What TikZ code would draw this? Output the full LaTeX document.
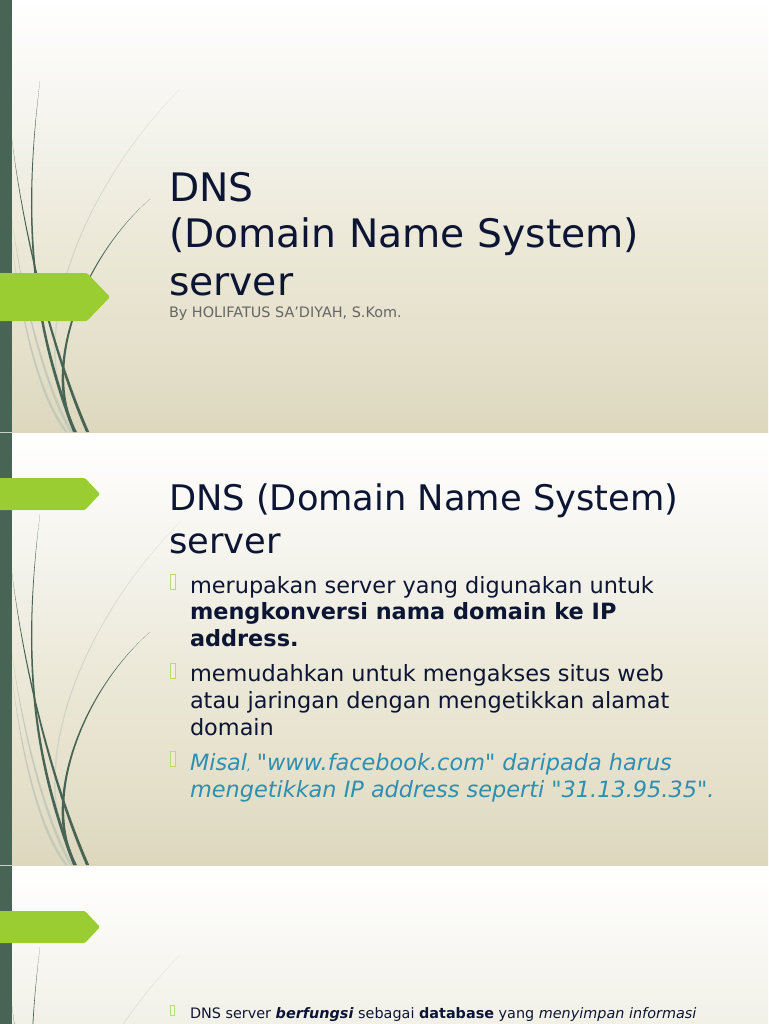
\documentclass[tikz,border=0pt]{standalone}
\usepackage{fontspec}
\setmainfont{DejaVu Sans}
\newfontfamily\plainfam{DejaVu Sans}
\usetikzlibrary{calc}
\definecolor{ink}{HTML}{0C1533}
\definecolor{barc}{HTML}{486454}
\definecolor{lime}{HTML}{9ACD32}
\definecolor{teal1}{HTML}{2E8FB0}
\definecolor{sub}{HTML}{666666}
\definecolor{bg1}{HTML}{F4F3EC}
\definecolor{bg2}{HTML}{E8E4CF}
\definecolor{bg3}{HTML}{DDD7BE}
\definecolor{leafl}{HTML}{C4CABA}
\pgfdeclareverticalshading{slideshade}{100bp}{color(0bp)=(bg3); color(25bp)=(bg3); color(33bp)=(bg2!60!bg3); color(48bp)=(bg2!65!bg1); color(60bp)=(bg1); color(75bp)=(white); color(100bp)=(white)}
\tikzset{x=0.75pt,y=-0.75pt,
 slidebg/.style={shading=slideshade,draw=none},
 bar/.style={fill=barc,draw=none},
 tag/.style={fill=lime,draw=none,rounded corners=1pt},
 txt/.style={anchor=base west,inner sep=0pt,outer sep=0pt,text=ink,align=left},
 bul/.style={draw=lime!70!white,line width=0.6pt,fill=white,fill opacity=0.25}}
% tapered stroke: start, c1, c2, end, width
\newcommand{\leafstroke}[6]{%
 \fill[#6] #1 .. controls #2 and #3 .. #4 -- ++(#5,0) .. controls ($#3+(#5*0.8,0)$) and ($#2+(#5*0.45,0)$) .. #1 -- cycle;}
\newcommand{\leafset}{%
 \leafstroke{(12,220)}{(22,300)}{(45,390)}{(70,432)}{3}{leafl}
 \leafstroke{(12,244)}{(22,330)}{(40,400)}{(65,432)}{3}{leafl}
 \leafstroke{(180,89)}{(80,190)}{(20,340)}{(75,432)}{2}{leafl!80}
 \leafstroke{(40,81)}{(22,220)}{(30,320)}{(73,432)}{3.2}{barc}
 \leafstroke{(12,140)}{(25,250)}{(55,360)}{(86,432)}{3.2}{barc}
 \leafstroke{(150,199)}{(80,260)}{(40,370)}{(74,432)}{3}{barc}
}
\begin{document}
\begin{tikzpicture}
\useasboundingbox (0,0) rectangle (768,1024);
\fill[white] (0,0) rectangle (768,1024);
\clip (0,0) rectangle (768,1024);
% slide 1
\shade[slidebg] (0,0) rectangle (768,432.5);
\begin{scope}\clip (0,0) rectangle (768,432.5);\leafset\end{scope}
\fill[bar] (0,0) rectangle (12,1024);
\fill[tag] (-5,273) -- (87,273) -- (110,297) -- (87,321) -- (-5,321) -- cycle;
\node[txt,font=\fontsize{29.45pt}{35pt}\selectfont] (t1a) at (169,201) {DNS};
\node[txt,font=\fontsize{29.45pt}{35pt}\selectfont] (t1b) at (169,247) {(Domain Name System)};
\node[txt,font=\fontsize{29.45pt}{35pt}\selectfont] (t1c) at (169,295) {server};
\node[txt,text=sub,font=\fontsize{10.8pt}{13pt}\selectfont] (s1) at (169,317.5) {By HOLIFATUS SA’DIYAH, S.Kom.};
% slide 2
\begin{scope}[shift={(0,433)}]
\shade[slidebg] (0,0) rectangle (768,432.5);
\begin{scope}\clip (0,0) rectangle (768,432.5);\leafset\end{scope}
\fill[bar] (0,0) rectangle (12,432.5);
\fill[tag] (-5,45) -- (85,45) -- (100,61) -- (85,77) -- (-5,77) -- cycle;
\end{scope}
\node[txt,font=\fontsize{26.45pt}{32pt}\selectfont] (t2a) at (169,510) {DNS (Domain Name System)};
\node[txt,font=\fontsize{26.45pt}{32pt}\selectfont] (t2b) at (169,553) {server};
\foreach \n/\yy in {b1/574,b2/663,b3/751}{\draw[bul] (170,\yy) rectangle (175.5,\yy+15);}
\node[txt,font=\fontsize{16.8pt}{20pt}\selectfont] (p1a) at (190,593) {merupakan server yang digunakan untuk};
\node[txt,font=\fontsize{16.8pt}{20pt}\selectfont\bfseries] (p1b) at (190,619) {mengkonversi nama domain ke IP};
\node[txt,font=\fontsize{16.8pt}{20pt}\selectfont\bfseries] (p1c) at (190,646) {address.};
\node[txt,font=\fontsize{16.8pt}{20pt}\selectfont] (p2a) at (190,681) {memudahkan untuk mengakses situs web};
\node[txt,font=\fontsize{16.8pt}{20pt}\selectfont] (p2b) at (190,708) {atau jaringan dengan mengetikkan alamat};
\node[txt,font=\fontsize{16.8pt}{20pt}\selectfont] (p2c) at (190,735) {domain};
\node[txt,text=teal1,font=\plainfam\fontsize{16.8pt}{20pt}\selectfont\itshape] (p3a) at (190,770) {Misal{\fontsize{9pt}{10pt}\selectfont, }\kern1.5pt"www.facebook.com" daripada harus};
\node[txt,text=teal1,font=\plainfam\fontsize{16.8pt}{20pt}\selectfont\itshape] (p3b) at (190,797) {mengetikkan IP address seperti "31.13.95.35".};
% slide 3
\begin{scope}[shift={(0,866)}]
\shade[slidebg] (0,0) rectangle (768,432.5);
\begin{scope}\clip (0,0) rectangle (768,432.5);\leafset\end{scope}
\fill[bar] (0,0) rectangle (12,432.5);
\fill[tag] (-5,45) -- (85,45) -- (100,61) -- (85,77) -- (-5,77) -- cycle;
\end{scope}
\draw[white!70!barc,line width=0.5pt] (0,432.5) -- (12,432.5) (0,865.5) -- (12,865.5);
\draw[bul] (170.5,1005) rectangle (174,1015);
\node[txt,font=\fontsize{10.8pt}{13pt}\selectfont] (p4) at (190,1018) {DNS server \textbf{\textit{berfungsi}} sebagai \textbf{database} yang \textit{menyimpan informasi}};
\end{tikzpicture}
\end{document}
